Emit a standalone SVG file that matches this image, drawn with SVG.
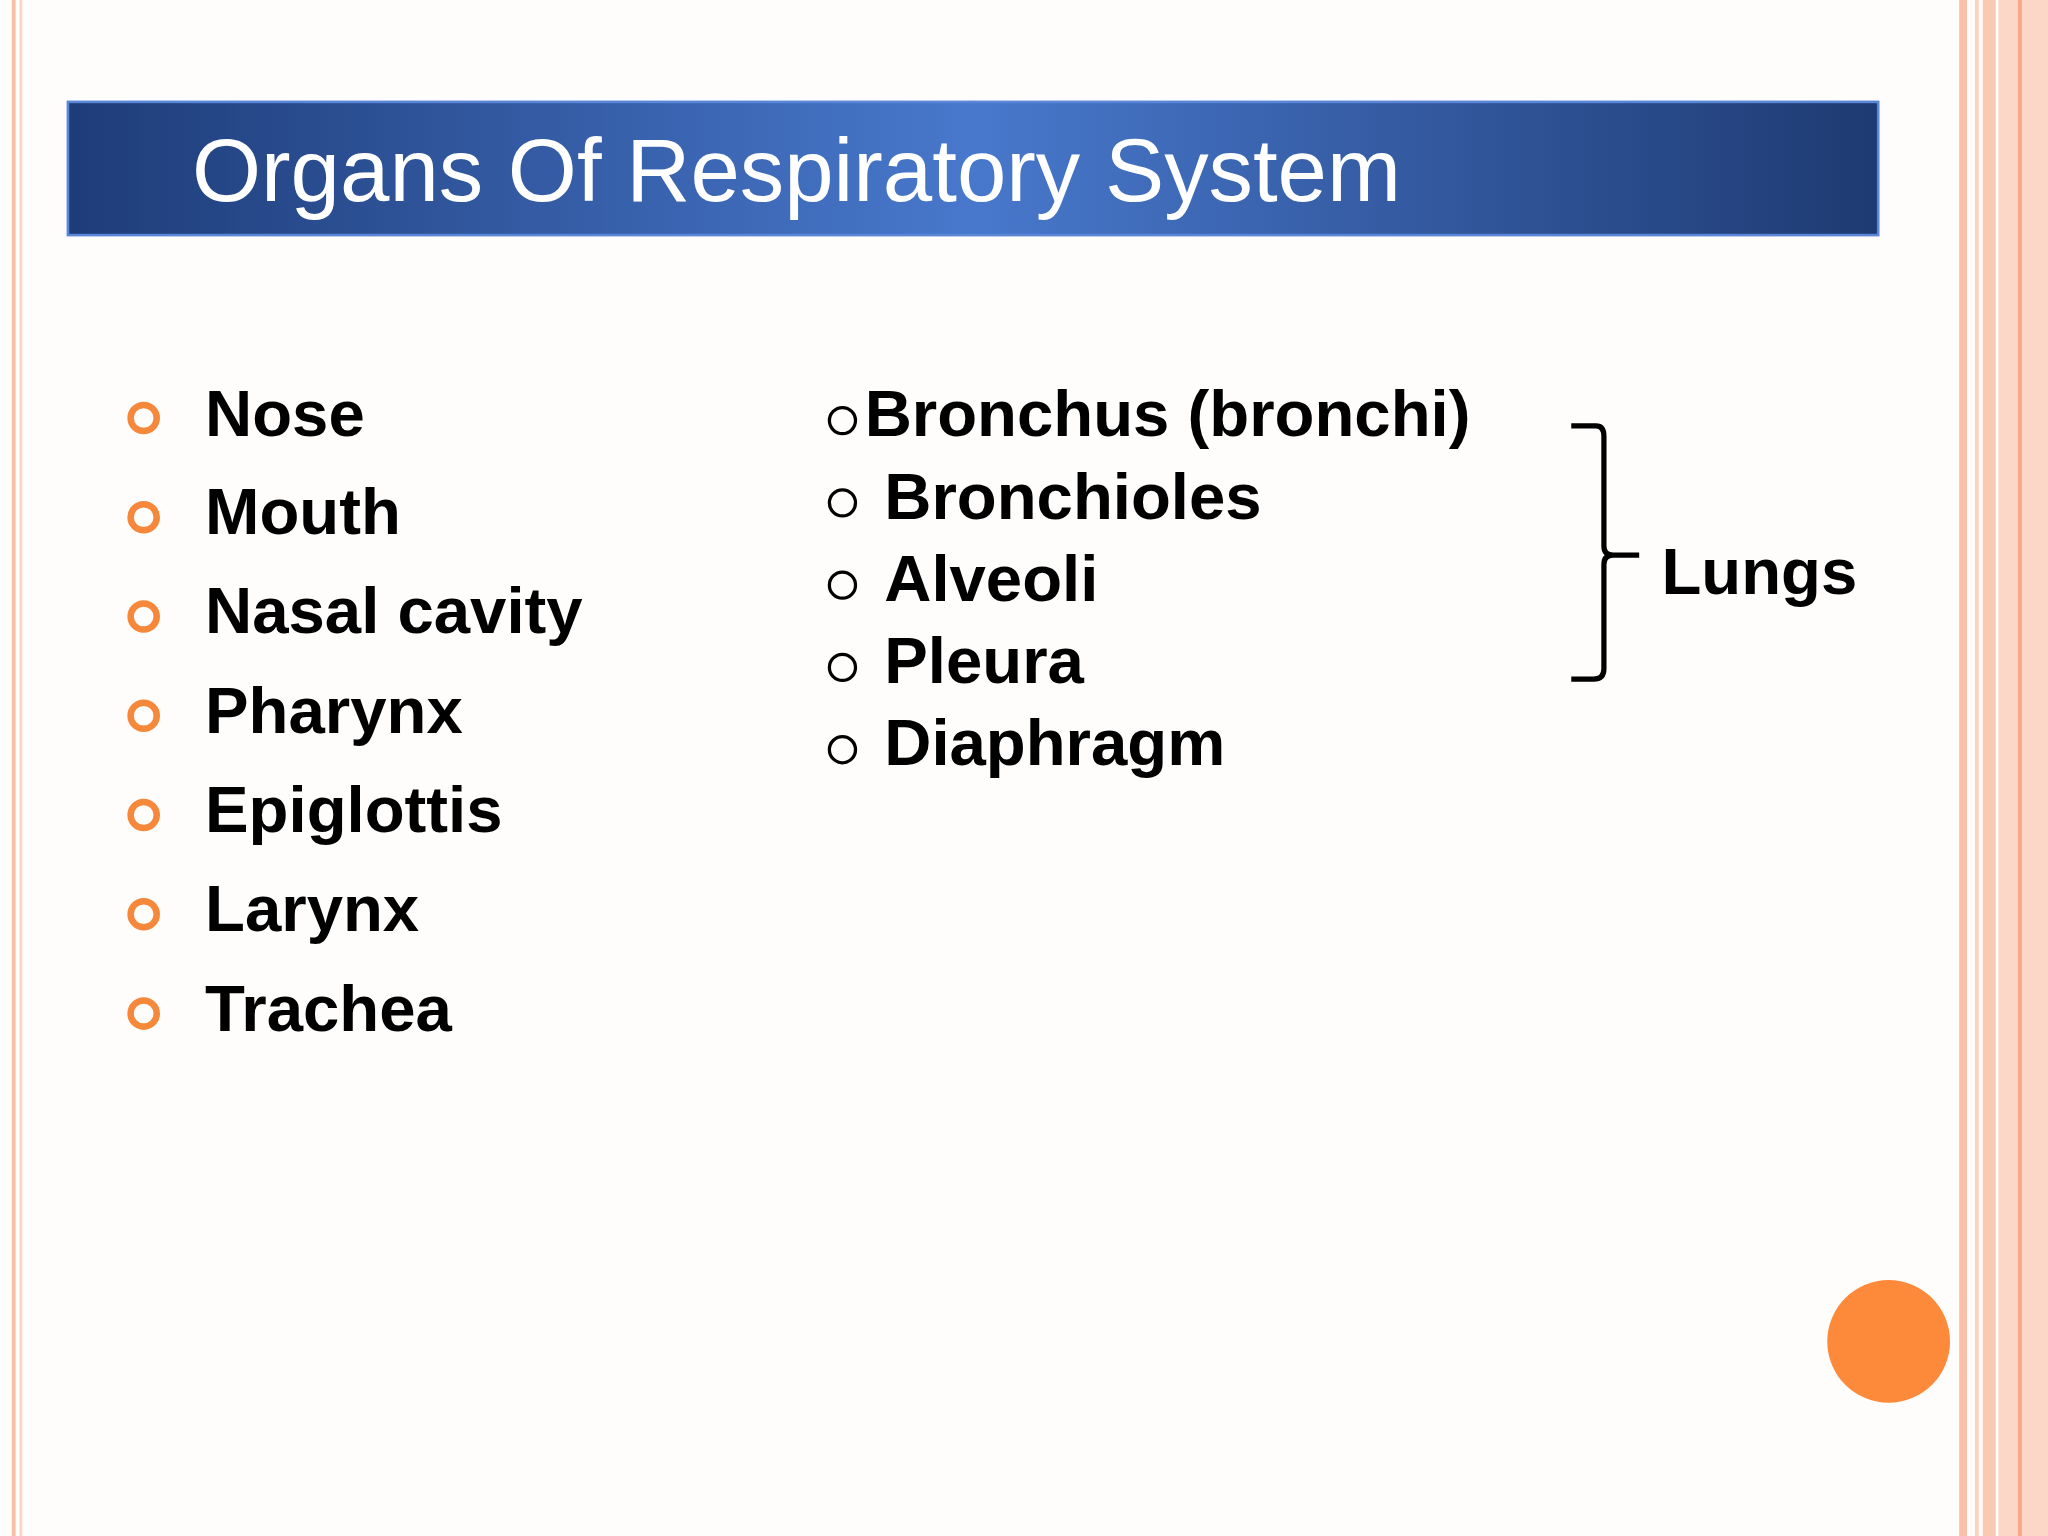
<svg xmlns="http://www.w3.org/2000/svg" width="2048" height="1536" viewBox="0 0 2048 1536">
<defs>
<linearGradient id="tg" x1="0" x2="1" y1="0" y2="0">
<stop offset="0" stop-color="#1e3c78"/><stop offset="0.5" stop-color="#4878cc"/><stop offset="1" stop-color="#1e3a72"/>
</linearGradient>
<style>
.t{font-family:"Liberation Sans",Arial,sans-serif;font-weight:bold;font-size:50px;fill:#000}
.ob{fill:none;stroke:#f5883a;stroke-width:5}
.cb{fill:none;stroke:#000;stroke-width:2.5}
</style>
</defs>
<rect width="2048" height="1536" fill="#fffdfc"/>
<g transform="scale(1.30612)">
<g id="borders">
<rect x="9" y="0" width="3" height="1176" fill="#f9c0a8"/>
<rect x="15" y="0" width="2" height="1176" fill="#fbd3c2"/>
<rect x="1500" y="0" width="6" height="1176" fill="#f9c0a8"/>
<rect x="1512" y="0" width="3" height="1176" fill="#fbd3c2"/>
<rect x="1518" y="0" width="10" height="1176" fill="#fac9b3"/>
<rect x="1530" y="0" width="38" height="1176" fill="#fcd6c6"/>
<rect x="1545" y="0" width="3" height="1176" fill="#f5a988"/>
</g>
<g id="title">
<rect x="52" y="78" width="1386" height="102" fill="url(#tg)" stroke="#5a86d8" stroke-width="2"/>
<text x="147" y="154" font-family="'Liberation Sans',Arial,sans-serif" font-size="68" fill="#fff">Organs Of Respiratory System</text>
</g>
<g id="left-list">
<circle class="ob" cx="110" cy="320" r="10"/><text class="t" x="157" y="334">Nose</text>
<circle class="ob" cx="110" cy="396" r="10"/><text class="t" x="157" y="409">Mouth</text>
<circle class="ob" cx="110" cy="472" r="10"/><text class="t" x="157" y="485">Nasal cavity</text>
<circle class="ob" cx="110" cy="548" r="10"/><text class="t" x="157" y="561">Pharynx</text>
<circle class="ob" cx="110" cy="624" r="10"/><text class="t" x="157" y="637">Epiglottis</text>
<circle class="ob" cx="110" cy="700" r="10"/><text class="t" x="157" y="713">Larynx</text>
<circle class="ob" cx="110" cy="776" r="10"/><text class="t" x="157" y="789">Trachea</text>
</g>
<g id="right-list">
<circle class="cb" cx="645" cy="322" r="10"/><text class="t" x="662" y="334">Bronchus (bronchi)</text>
<circle class="cb" cx="645" cy="385" r="10"/><text class="t" x="677" y="397">Bronchioles</text>
<circle class="cb" cx="645" cy="448" r="10"/><text class="t" x="677" y="460">Alveoli</text>
<circle class="cb" cx="645" cy="511" r="10"/><text class="t" x="677" y="523">Pleura</text>
<circle class="cb" cx="645" cy="574" r="10"/><text class="t" x="677" y="586">Diaphragm</text>
</g>
<g id="lungs">
<path d="M1203 326 H1222 Q1228 326 1228 334 V418 Q1228 425 1235 425 H1255 M1235 425 Q1228 425 1228 432 V512 Q1228 520 1220 520 H1203" fill="none" stroke="#000" stroke-width="4"/>
<text class="t" x="1272" y="455" font-size="66">Lungs</text>
</g>
<circle id="dot" cx="1446" cy="1027" r="47" fill="#fd8a3b"/>
</g>
</svg>
